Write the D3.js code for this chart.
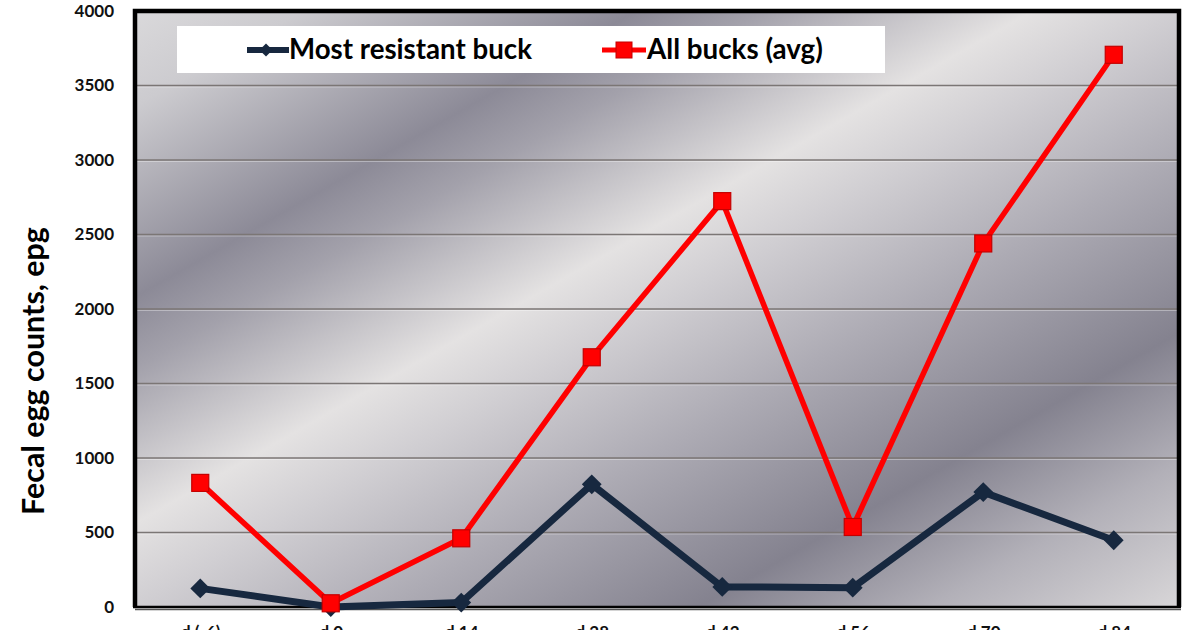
<!DOCTYPE html>
<html><head><meta charset="utf-8">
<script src="https://cdn.jsdelivr.net/npm/d3@7"></script>
<style>body{margin:0;background:#fff;overflow:hidden}svg{display:block}</style>
</head><body>
<svg id="c" width="1200" height="630"></svg>
<script>
const categories = ["d (-6)", "d 0", "d 14", "d 28", "d 42", "d 56", "d 70", "d 84"];
const resistantBuck = [125, 0, 30, 823, 135, 130, 771, 448];
const allBucksAvg = [833, 25, 461, 1676, 2724, 537, 2440, 3706];
const yTicks = [0, 500, 1000, 1500, 2000, 2500, 3000, 3500, 4000];
const seriesNames = ["Most resistant buck", "All bucks (avg)"];
const yTitle = "Fecal egg counts, epg";

const svg = d3.select("#c");
const FONT = "Lato, 'Open Sans', 'Liberation Sans', sans-serif";
const L = 135, R = 1179, T = 11, B = 607;

const x = d3.scalePoint().domain(categories).range([L, R]).padding(0.5);
const y = d3.scaleLinear().domain([0, 4000]).range([B, T]);

function fit(sel, target) {
  const n = sel.node();
  const w = n.getComputedTextLength();
  const fs = parseFloat(sel.attr("font-size"));
  sel.attr("font-size", fs * target / w);
}

// gradient background
const defs = svg.append("defs");
const g = defs.append("linearGradient").attr("id", "metal")
  .attr("x1", 0).attr("y1", 0).attr("x2", 1).attr("y2", 1);
[[0, "#dad9db"], [0.08, "#cccbcf"], [0.24, "#8c8a97"], [0.3, "#a3a1ab"],
 [0.43, "#e4e2e2"], [0.5, "#d0ced2"], [0.62, "#adabb4"], [0.77, "#84828f"],
 [0.88, "#b2b0b8"], [1, "#d8d6d8"]].forEach(([o, c]) =>
  g.append("stop").attr("offset", o).attr("stop-color", c));

svg.append("rect").attr("x", L).attr("y", T).attr("width", R - L).attr("height", B - T)
  .attr("fill", "url(#metal)");

// gridlines
const grid = svg.append("g");
yTicks.filter(d => d > 0 && d < 4000).forEach(d => {
  grid.append("line").attr("x1", L).attr("x2", R).attr("y1", y(d) + 1.5).attr("y2", y(d) + 1.5)
    .attr("stroke", "#ffffff").attr("stroke-opacity", 0.35).attr("stroke-width", 1);
  grid.append("line").attr("x1", L).attr("x2", R).attr("y1", y(d)).attr("y2", y(d))
    .attr("stroke", "#7b7675").attr("stroke-width", 1.6);
});

// y axis labels via d3 axis
const yAxis = svg.append("g").attr("transform", `translate(${L},0)`)
  .call(d3.axisLeft(y).tickValues(yTicks).tickSize(0).tickPadding(21).tickFormat(d3.format("d")));
yAxis.select(".domain").remove();
yAxis.selectAll("text").attr("font-family", FONT).attr("font-size", 17)
  .attr("font-weight", 700).attr("fill", "#111");

// x axis labels
const xAxis = svg.append("g").attr("transform", `translate(0,${B})`)
  .call(d3.axisBottom(x).tickSize(0).tickPadding(18));
xAxis.select(".domain").remove();
xAxis.selectAll("text").attr("font-family", FONT).attr("font-size", 17)
  .attr("font-weight", 700).attr("fill", "#111").attr("dy", "0.75em");

// border
svg.append("line").attr("x1", L).attr("x2", R + 2).attr("y1", B + 2.5).attr("y2", B + 2.5)
  .attr("stroke", "#555").attr("stroke-width", 1.5);
svg.append("path").attr("d", `M${L},${B}V${T}H${R}V${B}`).attr("fill", "none")
  .attr("stroke", "#000").attr("stroke-width", 4.5);
svg.append("line").attr("x1", L - 2).attr("x2", R + 2).attr("y1", B).attr("y2", B)
  .attr("stroke", "#000").attr("stroke-width", 2.5);

// y title
const yt = svg.append("text").attr("transform", "translate(44,371) rotate(-90)")
  .attr("text-anchor", "middle").attr("font-family", FONT).attr("font-weight", 700)
  .attr("font-size", 26).attr("fill", "#000").text(yTitle);
fit(yt, 288);

// series
const DARK = "#17283f", RED = "#ff0000";
const line = d3.line().x((d, i) => x(categories[i])).y(d => y(d));
const diamond = d3.symbol().type(d3.symbolDiamond2).size(250);

svg.append("path").datum(resistantBuck).attr("d", line).attr("fill", "none")
  .attr("stroke", DARK).attr("stroke-width", 7).attr("stroke-linejoin", "round");
svg.append("g").selectAll("path").data(resistantBuck).join("path")
  .attr("d", diamond).attr("fill", DARK)
  .attr("transform", (d, i) => `translate(${x(categories[i])},${y(d)})`);

svg.append("path").datum(allBucksAvg).attr("d", line).attr("fill", "none")
  .attr("stroke", RED).attr("stroke-width", 5.5).attr("stroke-linejoin", "round");
svg.append("g").selectAll("rect").data(allBucksAvg).join("rect")
  .attr("x", (d, i) => x(categories[i]) - 8.5).attr("y", d => y(d) - 8.5)
  .attr("width", 17).attr("height", 17).attr("fill", RED)
  .attr("stroke", "#c40000").attr("stroke-width", 1.2);

// legend
const lg = svg.append("g");
lg.append("rect").attr("x", 177).attr("y", 26).attr("width", 708).attr("height", 47).attr("fill", "#fff");
lg.append("line").attr("x1", 247).attr("x2", 289).attr("y1", 50).attr("y2", 50)
  .attr("stroke", DARK).attr("stroke-width", 6);
lg.append("path").attr("d", d3.symbol().type(d3.symbolDiamond2).size(110))
  .attr("transform", "translate(266,50)").attr("fill", DARK);
lg.append("line").attr("x1", 602).attr("x2", 646).attr("y1", 50).attr("y2", 50)
  .attr("stroke", RED).attr("stroke-width", 5);
lg.append("rect").attr("x", 616).attr("y", 42).attr("width", 16).attr("height", 16)
  .attr("fill", RED).attr("stroke", "#c40000").attr("stroke-width", 1);
const t1 = lg.append("text").attr("x", 289).attr("y", 59).attr("font-family", FONT)
  .attr("font-weight", 700).attr("font-size", 24).attr("fill", "#000").text(seriesNames[0]);
fit(t1, 243);
const t2 = lg.append("text").attr("x", 647).attr("y", 59).attr("font-family", FONT)
  .attr("font-weight", 700).attr("font-size", 24).attr("fill", "#000").text(seriesNames[1]);
fit(t2, 176);
</script>
</body></html>
